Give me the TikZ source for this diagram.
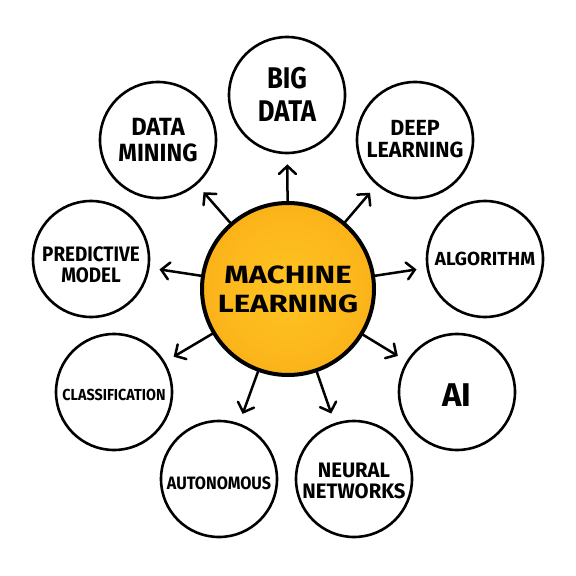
\documentclass[tikz,border=0pt]{standalone}
\usepackage{fontspec}
\setmainfont{Fira Sans}
\usetikzlibrary{arrows.meta}
\definecolor{mlin}{RGB}{255,196,34}
\definecolor{mlout}{RGB}{245,152,12}
\pgfdeclareradialshading{mlshade}{\pgfpoint{0bp}{0bp}}{color(0bp)=(mlin); color(20bp)=(mlin!70!mlout); color(50bp)=(mlout)}
\tikzset{
  leaf/.style={circle, draw=black, line width=2.6bp, minimum size=116bp, inner sep=0pt, fill=white},
  hub/.style={circle, draw=black, line width=4bp, minimum size=172bp, inner sep=0pt, align=center, shading=mlshade},
  tx/.style={align=center, inner sep=0pt},
  arr/.style={-{Straight Barb[length=8bp,width=17bp,line cap=round]}, line width=2.5bp, line cap=round, shorten >=10bp},
  fs/.style 2 args={font=\bfseries\fontsize{#1}{#1}\selectfont\addfontfeature{FakeStretch=#2}}
}
\begin{document}
\begin{tikzpicture}[x=1bp,y=-1bp]
\path[use as bounding box, fill=white] (0,0) rectangle (576,576);
\node[hub, fs={25}{1.25}] (ml) at (288,289) {MACHINE\\[4bp]LEARNING};
\node[leaf, label={[tx, fs={30}{0.86}, yshift=1bp]center:BIG\\[3bp]DATA}] (bd) at (287,95) {};
\node[leaf, label={[tx, fs={25}{0.95}]center:DATA\\[1bp]MINING}] (dm) at (158,140) {};
\node[leaf, label={[tx, fs={22}{0.98}, yshift=1bp]center:DEEP\\[0bp]LEARNING}] (dl) at (415,140) {};
\node[leaf, label={[tx, fs={21}{0.9}, yshift=-6bp]center:PREDICTIVE\\[0bp]MODEL}] (pm) at (91,259) {};
\node[leaf, label={[tx, fs={19}{1.0}]center:ALGORITHM}] (al) at (485,259) {};
\node[leaf, label={[tx, fs={16}{0.9}, yshift=-3bp]center:CLASSIFICATION}] (cl) at (114,392) {};
\node[leaf, label={[tx, fs={33}{1.0}, yshift=-3bp]center:AI}] (ai) at (457,392) {};
\node[leaf, label={[tx, fs={18}{0.9}, yshift=-4bp]center:AUTONOMOUS}] (au) at (219,479) {};
\node[leaf, label={[tx, fs={21}{0.97}, yshift=-2bp]center:NEURAL\\[0bp]NETWORKS}] (nn) at (354,479) {};
\foreach \t in {bd,dm,dl,pm,al,cl,ai,au,nn}
  \draw[arr] (ml) -- (\t);
\end{tikzpicture}
\end{document}
